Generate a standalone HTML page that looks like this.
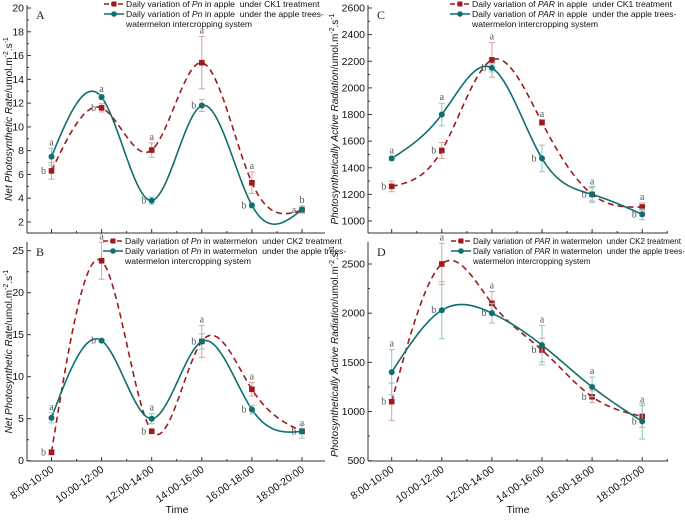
<!DOCTYPE html>
<html><head><meta charset="utf-8"><style>
body{margin:0;background:#fff}
svg{font-family:"Liberation Sans",sans-serif}
.t{font-size:10.5px;fill:#111}
.lg{fill:#111;white-space:pre}
.lt{font-family:"Liberation Serif",serif;font-size:10px;fill:#555}
.pl{font-family:"Liberation Serif",serif;font-size:12px;fill:#222}
</style></head><body>
<svg id="c" width="685" height="517" xmlns="http://www.w3.org/2000/svg"></svg>
<script>
const categories=["8:00-10:00","10:00-12:00","12:00-14:00","14:00-16:00","16:00-18:00","18:00-20:00"];
const aRed=[6.3,11.6,8.05,15.4,5.3,3.0];
const aRedErr=[0.7,0.35,0.6,2.2,0.9,0.2];
const aTeal=[7.5,12.5,3.8,11.8,3.4,3.05];
const aTealErr=[0.7,0.2,0.3,0.5,0.2,0.3];
const aRedLet=["b","b","a","a","a","a"];
const aTealLet=["a","a","b","b","b","b"];
const bRed=[1.0,23.8,3.5,14.2,8.5,3.5];
const bRedErr=[0.3,2.2,0.2,1.9,0.8,0.3];
const bTeal=[5.1,14.3,5.0,14.2,6.1,3.5];
const bTealErr=[0.6,0.2,0.6,0.9,0.5,0.8];
const bRedLet=["b","a","b","a","a","a"];
const bTealLet=["a","b","a","b","b","b"];
const cRed=[1260,1530,2210,1740,1200,1105];
const cRedErr=[40,60,130,20,50,30];
const cTeal=[1470,1800,2150,1470,1200,1050];
const cTealErr=[15,85,30,100,60,40];
const cRedLet=["b","b","a","a","a","a"];
const cTealLet=["a","a","b","b","b","b"];
const dRed=[1100,2500,2100,1625,1150,950];
const dRedErr=[190,210,120,120,60,110];
const dTeal=[1400,2030,2000,1675,1250,900];
const dTealErr=[230,290,100,200,100,180];
const dRedLet=["b","a","a","b","b","a"];
const dTealLet=["a","b","b","a","a","b"];
const aTicks=[2,4,6,8,10,12,14,16,18,20];
const bTicks=[0,5,10,15,20,25];
const cTicks=[1000,1200,1400,1600,1800,2000,2200,2400,2600];
const dTicks=[500,1000,1500,2000,2500];

const NS="http://www.w3.org/2000/svg";
const svg=document.getElementById('c');
function el(t,a,p){const e=document.createElementNS(NS,t);for(const k in a)e.setAttribute(k,a[k]);(p||svg).appendChild(e);return e;}
const RED="#a01a1a",TEAL="#0f6e6e";
function spline(ys){const n=ys.length,m=new Array(n).fill(0);
 const a=[],b=[],c=[],d=[];for(let i=1;i<n-1;i++){a.push(1);b.push(4);c.push(1);d.push(6*(ys[i+1]-2*ys[i]+ys[i-1]));}
 const k=n-2;for(let i=1;i<k;i++){const w=a[i]/b[i-1];b[i]-=w*c[i-1];d[i]-=w*d[i-1];}
 const s=new Array(k);s[k-1]=d[k-1]/b[k-1];for(let i=k-2;i>=0;i--)s[i]=(d[i]-c[i]*s[i+1])/b[i];
 for(let i=0;i<k;i++)m[i+1]=s[i];
 const pts=[];for(let i=0;i<n-1;i++){for(let j=0;j<20;j++){const t=j/20;
  const v=(1-t)*ys[i]+t*ys[i+1]+((Math.pow(1-t,3)-(1-t))*m[i]+(Math.pow(t,3)-t)*m[i+1])/6;pts.push([i+t,v]);}}
 pts.push([n-1,ys[n-1]]);return pts;}
function panel(o){
 const g=el('g',{});
 const X=i=>o.x0+i*50.1, Y=v=>o.yA+(v-o.vA)*(o.yB-o.yA)/(o.vB-o.vA);
 el('line',{x1:o.left,y1:o.top,x2:o.left,y2:o.bottom,stroke:'#333','stroke-width':1},g);
 el('line',{x1:o.left,y1:o.bottom,x2:o.right,y2:o.bottom,stroke:'#333','stroke-width':1},g);
 o.ticks.forEach((v,i)=>{const y=Y(v);el('line',{x1:o.left,y1:y,x2:o.left+4,y2:y,stroke:'#333'},g);
  const t=el('text',{x:o.left-3,y:y+3.5,'text-anchor':'end',class:'t'},g);t.textContent=v;
  if(i<o.ticks.length-1){const ym=Y((v+o.ticks[i+1])/2);el('line',{x1:o.left,y1:ym,x2:o.left+2,y2:ym,stroke:'#333'},g);}});
 for(let i=-0.5;i<=5.5;i+=0.5){const x=X(i);if(x<=o.left||x>o.right)continue;el('line',{x1:x,y1:o.bottom,x2:x,y2:o.bottom-(i%1===0?4:2),stroke:'#333'},g);}
 if(o.xlabels){categories.forEach((c,i)=>{const t=el('text',{transform:`translate(${X(i)+3},${o.bottom+10}) rotate(-35)`,'text-anchor':'end',class:'t'},g);t.textContent=c;});
  const tt=el('text',{x:o.left+150,y:513,'text-anchor':'middle',class:'t'},g);tt.textContent='Time';}
 const yt=el('text',{transform:`translate(${o.ytx},${(o.top+o.bottom)/2}) rotate(-90)`,'text-anchor':'middle',class:'t'},g);
 yt.style.fontSize='10px';
 
 yt.innerHTML=o.ytitle;
 const pl=el('text',{x:o.left+9,y:o.top+14,class:'pl'},g);pl.textContent=o.letter;
 [[o.red,o.redE,o.redL,RED,true],[o.teal,o.tealE,o.tealL,TEAL,false]].forEach(([vals,errs,lets,col,dash])=>{
  const pts=spline(vals).map(p=>[X(p[0]),Y(p[1])]);
  const ln=el('path',{d:'M'+pts.map(p=>p.join(',')).join('L'),fill:'none',stroke:col,'stroke-width':1.6,'stroke-dasharray':dash?'6,4':'none'},g);
  
  vals.forEach((v,i)=>{const x=X(i),y=Y(v),e=errs[i],ec=dash?'#d9a0a0':'#8cc7c7';
   el('line',{x1:x,y1:Y(v-e),x2:x,y2:Y(v+e),stroke:ec},g);el('line',{x1:x-3,y1:Y(v-e),x2:x+3,y2:Y(v-e),stroke:ec},g);el('line',{x1:x-3,y1:Y(v+e),x2:x+3,y2:Y(v+e),stroke:ec},g);
   let m;if(dash)m=el('rect',{x:x-2.8,y:y-2.8,width:5.6,height:5.6,fill:col},g);else m=el('circle',{cx:x,cy:y,r:3,fill:col},g);
   
   const top=(dash?v>=o.teal[i]:v>o.red[i]);const lt=el('text',{x:x,y:top?Y(v+e)-3:Y(v-e)+9,'text-anchor':'middle',class:'lt'},g);
   if(!top){lt.setAttribute('x',x-8);lt.setAttribute('y',y+3);}
   lt.textContent=lets[i];});});
 o.legend.forEach((s,i)=>{const y=o.top+i*10-1;if(i<2){const col=i==0?RED:TEAL;
   const l=el('line',{x1:o.lx,y1:y,x2:o.lx+20,y2:y,stroke:col,'stroke-width':1.6,'stroke-dasharray':i==0?'5,2':'none'},g);
   if(i==0)el('rect',{x:o.lx+7.5,y:y-2.5,width:5,height:5,fill:col},g);else el('circle',{cx:o.lx+10,cy:y,r:2.8,fill:col},g);}
  const t=el('text',{x:o.lx+22,y:y+3,class:'lg'},g);t.style.fontSize=(o.lfs||8.6)+'px';t.innerHTML=s;});
}
const pn='<tspan font-style="italic">Net Photosynthetic Rate</tspan>/umol.m<tspan dy="-4" font-size="7">-2</tspan><tspan dy="4">.s</tspan><tspan dy="-4" font-size="7">-1</tspan>';
const par='<tspan font-style="italic">Photosynthetically Active Radiation</tspan>/umol.m<tspan dy="-4" font-size="7">-2</tspan><tspan dy="4">.s</tspan><tspan dy="-4" font-size="7">-1</tspan>';
panel({name:'panel-a',letter:'A',left:27,right:325,top:5,bottom:233,x0:51.5,yA:8,vA:20,yB:222,vB:2,ticks:aTicks,red:aRed,redE:aRedErr,redL:aRedLet,teal:aTeal,tealE:aTealErr,tealL:aTealLet,ytitle:pn,ytx:12,lx:104,
 legend:['Daily variation of <tspan font-style="italic">Pn</tspan> in apple  under CK1 treatment','Daily variation of <tspan font-style="italic">Pn</tspan> in apple  under the apple trees-','watermelon intercropping system']});
panel({name:'panel-b',letter:'B',left:27,right:325,top:242,bottom:461,x0:51.5,yA:460.7,vA:0,yB:250.7,vB:25,ticks:bTicks,red:bRed,redE:bRedErr,redL:bRedLet,teal:bTeal,tealE:bTealErr,tealL:bTealLet,ytitle:pn,ytx:12,lx:103,xlabels:true,
 legend:['Daily variation of <tspan font-style="italic">Pn</tspan> in watermelon  under CK2 treatment','Daily variation of <tspan font-style="italic">Pn</tspan> in watermelon  under the apple trees-','watermelon intercropping system']});
panel({name:'panel-c',letter:'C',left:368,right:668,top:5,bottom:233,x0:391.7,yA:8,vA:2600,yB:221,vB:1000,ticks:cTicks,red:cRed,redE:cRedErr,redL:cRedLet,teal:cTeal,tealE:cTealErr,tealL:cTealLet,ytitle:par,ytx:338,lx:450,
 legend:['Daily variation of <tspan font-style="italic">PAR</tspan> in apple  under CK1 treatment','Daily variation of <tspan font-style="italic">PAR</tspan> in apple  under the apple trees-','watermelon intercropping system']});
panel({name:'panel-d',letter:'D',left:368,right:668,top:242,bottom:461,x0:391.7,yA:264,vA:2500,yB:460.7,vB:500,ticks:dTicks,red:dRed,redE:dRedErr,redL:dRedLet,teal:dTeal,tealE:dTealErr,tealL:dTealLet,ytitle:par,ytx:338,lx:451,xlabels:true,lfs:8,
 legend:['Daily variation of <tspan font-style="italic">PAR</tspan> in watermelon  under CK2 treatment','Daily variation of <tspan font-style="italic">PAR</tspan> in watermelon  under the apple trees-','watermelon intercropping system']});
</script></body></html>
